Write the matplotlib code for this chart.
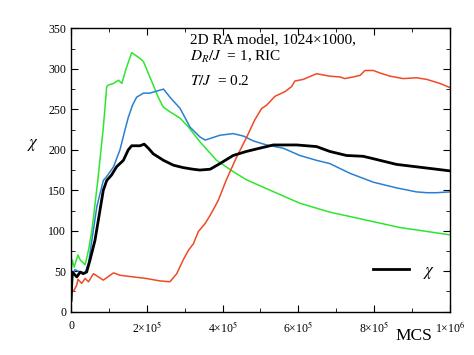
import matplotlib
matplotlib.use("Agg")
import matplotlib.pyplot as plt
from matplotlib.ticker import MultipleLocator, FixedLocator

plt.rcParams['font.family'] = ['Liberation Serif', 'DejaVu Serif']
plt.rcParams['mathtext.fontset'] = 'stix'

# Data (MCS, chi)
green_x = [0, 3e3, 8e3, 1.8e4, 2.4e4, 3.7e4, 4.6e4, 5.5e4, 7e4, 8.5e4, 9.4e4, 9.8e4, 1.12e5, 1.25e5, 1.34e5,
           1.45e5, 1.6e5, 1.82e5, 1.91e5, 2.08e5, 2.3e5, 2.43e5, 2.61e5, 2.88e5, 3.1e5, 3.4e5, 3.84e5, 4.28e5,
           4.63e5, 5.16e5, 6.04e5, 6.83e5, 7.71e5, 8.68e5, 1e6]
green_y = [50, 64, 55, 70, 64, 58, 76, 101, 160, 227, 278, 280, 282, 286, 282,
           300, 320, 313, 309, 290, 265, 253, 247, 239, 228, 210, 187, 173,
           163, 152, 134, 123, 114, 104, 95]

blue_x = [0, 4e3, 1e4, 2.4e4, 3.7e4, 4.6e4, 6.8e4, 8.5e4, 9.4e4, 1.12e5, 1.29e5, 1.42e5, 1.51e5, 1.62e5, 1.73e5,
          1.91e5, 2.08e5, 2.22e5, 2.44e5, 2.61e5, 2.88e5, 3.14e5, 3.4e5, 3.54e5, 3.67e5, 3.93e5, 4.28e5, 4.55e5,
          4.81e5, 5.16e5, 5.6e5, 6.04e5, 6.48e5, 6.83e5, 7.36e5, 7.98e5, 8.59e5, 9.12e5, 9.39e5, 9.65e5, 1e6]
blue_y = [10, 45, 52, 49, 48, 60, 130, 162, 167, 179, 200, 224, 240, 255, 265,
          270, 270, 272, 275, 265, 251, 228, 216, 212, 214, 218, 220, 217,
          211, 206, 202, 193, 187, 183, 171, 160, 153, 148, 147, 147, 148]

black_x = [0, 3e3, 1.5e4, 2.4e4, 3.2e4, 4.1e4, 5e4, 6.3e4, 8.5e4, 9.4e4, 1.07e5, 1.2e5, 1.38e5, 1.51e5, 1.6e5,
           1.82e5, 1.93e5, 2.04e5, 2.17e5, 2.44e5, 2.7e5, 2.96e5, 3.22e5, 3.4e5, 3.67e5, 3.93e5, 4.28e5, 4.63e5,
           4.98e5, 5.34e5, 5.96e5, 6.48e5, 6.83e5, 7.27e5, 7.71e5, 7.98e5, 8.59e5, 9.12e5, 9.65e5, 1e6]
black_y = [14, 49, 43, 49, 47, 49, 64, 88, 150, 162, 169, 179, 187, 200, 205,
           205, 207, 202, 195, 187, 181, 178, 176, 175, 176, 183, 193, 198,
           202, 206, 206, 204, 198, 193, 192, 189, 182, 179, 176, 174]

red_x = [0, 6e3, 1.5e4, 1.8e4, 2.8e4, 3.7e4, 4.6e4, 5.9e4, 7.2e4, 8.5e4, 1.12e5, 1.29e5, 1.64e5, 1.99e5, 2.35e5,
         2.61e5, 2.79e5, 2.96e5, 3.1e5, 3.23e5, 3.36e5, 3.54e5, 3.67e5, 3.8e5, 3.89e5, 4.1e5, 4.37e5, 4.63e5,
         4.85e5, 5.03e5, 5.16e5, 5.38e5, 5.65e5, 5.82e5, 5.91e5, 6.13e5, 6.48e5, 6.83e5, 7.1e5, 7.23e5, 7.45e5,
         7.63e5, 7.76e5, 7.98e5, 8.15e5, 8.42e5, 8.77e5, 9.12e5, 9.39e5, 9.74e5, 1e6]
red_y = [29, 25, 33, 40, 35, 41, 37, 47, 43, 39, 48, 45, 43, 41, 38,
         37, 47, 64, 76, 84, 99, 109, 119, 130, 138, 163, 191, 215,
         237, 251, 255, 266, 272, 278, 285, 287, 294, 291, 290, 288, 290,
         292, 298, 298, 295, 291, 288, 289, 287, 282, 277]

xticks = [0, 2e5, 4e5, 6e5, 8e5, 1e6]
xticklabels = ['0', r'2×10$^5$', r'4×10$^5$', r'6×10$^5$', r'8×10$^5$', r'1×10$^6$']

fig = plt.figure(figsize=(4.74, 3.55), dpi=100)
ax = fig.add_axes([0.150, 0.122, 0.799, 0.798])

ax.plot(green_x, green_y, color='#2ee62e', lw=1.1)
ax.plot(blue_x, blue_y, color='#2a80d0', lw=1.1)
ax.plot(red_x, red_y, color='#f04a25', lw=1.1)
ax.plot(black_x, black_y, color='black', lw=2.0, label=r'$\chi$')

ax.set_xlim(0, 1e6)
ax.set_ylim(0, 350)
ax.xaxis.set_major_locator(FixedLocator(xticks))
ax.set_xticklabels(xticklabels)
ax.xaxis.set_minor_locator(MultipleLocator(1e5))
ax.yaxis.set_major_locator(MultipleLocator(50))
ax.yaxis.set_minor_locator(MultipleLocator(25))
ax.tick_params(which='both', direction='in', top=True, right=True, labelsize=8.5)
ax.tick_params(which='major', length=5)
ax.tick_params(which='minor', length=3)
ax.tick_params(axis='x', pad=6)
for s in ax.spines.values():
    s.set_linewidth(1.0)

ax.set_ylabel(r'$\chi$', fontsize=12, rotation=0, labelpad=8)
ax.yaxis.set_label_coords(-0.1, 0.56)
ax.text(0.905, -0.085, 'MCS', transform=ax.transAxes, fontsize=12.5, ha='center', va='center')

ax.text(0.314, 0.96, '2D RA model, 1024×1000,', transform=ax.transAxes, fontsize=11, va='center')
ax.text(0.314, 0.9, r'$D_R/J$  = 1, RIC', transform=ax.transAxes, fontsize=11, va='center')
ax.text(0.314, 0.815, r'$T/J$  = 0.2', transform=ax.transAxes, fontsize=11, va='center')

ax.legend(loc='lower right', bbox_to_anchor=(1.0, 0.057), frameon=False, fontsize=12,
          handlelength=2.2, handletextpad=0.8)

fig.savefig('out.png', dpi=100)
